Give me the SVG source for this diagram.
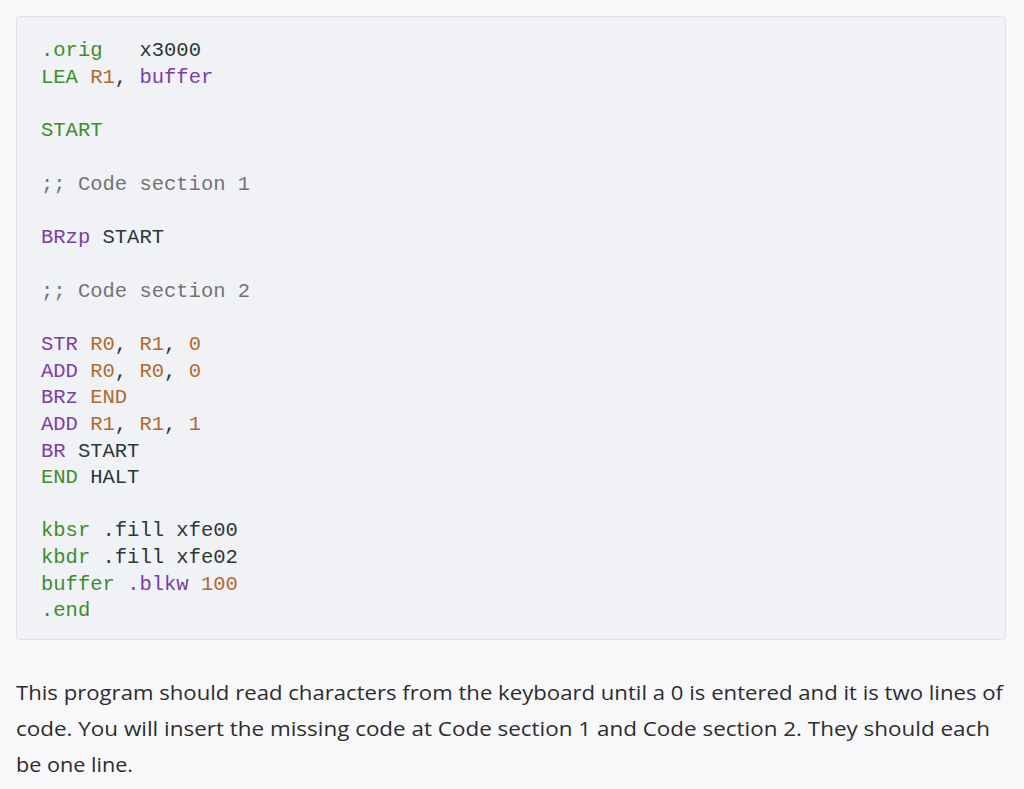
<svg xmlns="http://www.w3.org/2000/svg" width="1024" height="789" viewBox="0 0 1024 789">
<style>
.c{font-family:"Liberation Mono","Courier New",Cousine,monospace;font-size:20.5px;fill:#2b3836;white-space:pre;stroke:currentColor;stroke-width:0}
.g{fill:#3e8c2c}.o{fill:#b4692a}.p{fill:#7b3ea8}.m{fill:#737373}
.t{font-family:"Open Sans",Lato,sans-serif;font-size:20px;fill:#2d2d2d}
</style>
<rect width="1024" height="789" fill="#f8f8fa"/>
<rect x="16.5" y="16.5" width="989" height="623" rx="3" fill="#f1f2f6" stroke="#dfe1e5"/>
<g class="c">
<text x="41" y="56" xml:space="preserve"><tspan class="g">.orig</tspan>   x3000</text>
<text x="41" y="83" xml:space="preserve"><tspan class="g">LEA</tspan> <tspan class="o">R1</tspan>, <tspan class="p">buffer</tspan></text>
<text x="41" y="136" class="c g">START</text>
<text x="41" y="190" class="c m">;; Code section 1</text>
<text x="41" y="243" xml:space="preserve"><tspan class="p">BRzp</tspan> START</text>
<text x="41" y="297" class="c m">;; Code section 2</text>
<text x="41" y="350" xml:space="preserve"><tspan class="p">STR</tspan> <tspan class="o">R0</tspan>, <tspan class="o">R1</tspan>, <tspan class="o">0</tspan></text>
<text x="41" y="377" xml:space="preserve"><tspan class="p">ADD</tspan> <tspan class="o">R0</tspan>, <tspan class="o">R0</tspan>, <tspan class="o">0</tspan></text>
<text x="41" y="403" xml:space="preserve"><tspan class="p">BRz</tspan> <tspan class="o">END</tspan></text>
<text x="41" y="430" xml:space="preserve"><tspan class="p">ADD</tspan> <tspan class="o">R1</tspan>, <tspan class="o">R1</tspan>, <tspan class="o">1</tspan></text>
<text x="41" y="457" xml:space="preserve"><tspan class="p">BR</tspan> START</text>
<text x="41" y="483" xml:space="preserve"><tspan class="g">END</tspan> HALT</text>
<text x="41" y="536" xml:space="preserve"><tspan class="g">kbsr</tspan> .fill xfe00</text>
<text x="41" y="563" xml:space="preserve"><tspan class="g">kbdr</tspan> .fill xfe02</text>
<text x="41" y="590" xml:space="preserve"><tspan class="g">buffer</tspan> <tspan class="p">.blkw</tspan> <tspan class="o">100</tspan></text>
<text x="41" y="616" class="c g">.end</text>
</g>
<text class="t" x="16" y="700" textLength="987" lengthAdjust="spacingAndGlyphs">This program should read characters from the keyboard until a 0 is entered and it is two lines of</text>
<text class="t" x="16" y="736" textLength="974" lengthAdjust="spacingAndGlyphs">code. You will insert the missing code at Code section 1 and Code section 2. They should each</text>
<text class="t" x="16" y="772" textLength="117" lengthAdjust="spacingAndGlyphs">be one line.</text>
</svg>
